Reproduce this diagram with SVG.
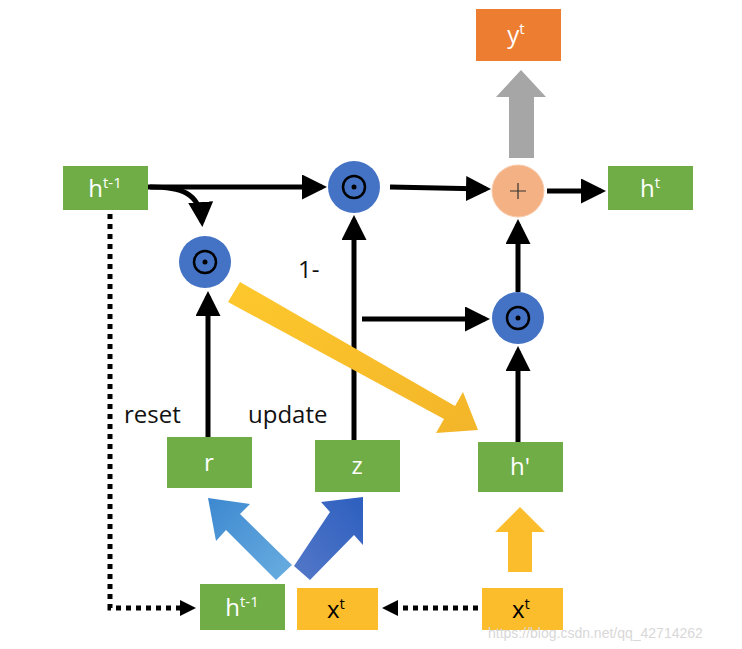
<svg xmlns="http://www.w3.org/2000/svg" width="742" height="649" viewBox="0 0 742 649">
<style>
.g{fill:#70ad47;}
.y{fill:#fbbd2c;}
.o{fill:#ed7d31;}
.t{font-family:"Open Sans","Liberation Sans",sans-serif;font-size:24px;fill:#fff;text-anchor:middle;}
.tk{font-family:"Open Sans","Liberation Sans",sans-serif;font-size:24px;fill:#000;text-anchor:middle;}
.lbl{font-family:"Open Sans","Liberation Sans",sans-serif;font-size:24px;fill:#111;}
.c{fill:#4472c4;}
.dot{fill:none;stroke:#000;stroke-width:2.5;}
.ln{stroke:#000;stroke-width:5;fill:none;marker-end:url(#ah);}
.ds{stroke:#000;stroke-width:5;fill:none;stroke-dasharray:5 5;}
</style>
<defs>
<marker id="ah" markerWidth="5" markerHeight="5" refX="4" refY="2.5" orient="auto" markerUnits="strokeWidth"><path d="M0,0 L5,2.5 L0,5 z" fill="#000"/></marker>
<linearGradient id="bl1" x1="1" y1="1" x2="0" y2="0"><stop offset="0" stop-color="#6aaee0"/><stop offset="1" stop-color="#3d88d0"/></linearGradient>
<linearGradient id="bl2" x1="0" y1="1" x2="1" y2="0"><stop offset="0" stop-color="#5478c8"/><stop offset="1" stop-color="#2d5fbf"/></linearGradient>
<linearGradient id="yl" x1="0" y1="0" x2="1" y2="1"><stop offset="0" stop-color="#fdc82c"/><stop offset="1" stop-color="#f3b52a"/></linearGradient>
</defs>
<g id="connectors">
<line class="ln" x1="148" y1="187" x2="322" y2="187"/>
<path class="ln" d="M150,187 C180,187 200,192 202,222"/>
<line class="ln" x1="390" y1="187" x2="486" y2="189"/>
<line class="ln" x1="547" y1="191" x2="601" y2="191"/>
<line class="ln" x1="208" y1="437" x2="208" y2="296"/>
<line class="ln" x1="354" y1="440" x2="354" y2="220"/>
<line class="ln" x1="362" y1="319" x2="485" y2="319"/>
<line class="ln" x1="518" y1="442" x2="518" y2="351"/>
<line class="ln" x1="518" y1="292" x2="518" y2="224"/>
<path class="ds" d="M110,214 V608 H180"/>
<path d="M180,600 L196,608 L180,616 z" fill="#000"/>
<line class="ds" x1="478" y1="608" x2="398" y2="608"/>
<path d="M398,600 L382,608 L398,616 z" fill="#000"/>
<polygon points="509,158 509,97 496,97 521,70 546,97 534,97 534,158" fill="#a6a6a6"/>
<polygon points="508,572 508,532 495,532 520,507 545,532 532,532 532,572" fill="#fbbd2c"/>
<polygon points="228,302 240,282 455,406 463,392 478,430 436,433 444,419" fill="url(#yl)"/>
<polygon points="292,565 276,580 226,530 216,541 208,498 250,504 240,514" fill="url(#bl1)"/>
<polygon points="294,566 310,580 354,535 363,545 363,497 321,502 330,512" fill="url(#bl2)"/>
</g>
<g id="h_prev"><rect class="g" x="63" y="166" width="85" height="44"/><text class="t" x="105" y="197">h<tspan font-size="15" dy="-9">t-1</tspan></text></g>
<g id="mul_top"><circle class="c" cx="354" cy="187" r="26"/><circle class="dot" cx="354" cy="187" r="11"/><circle cx="354" cy="187" r="2.5"/></g>
<g id="mul_left"><circle class="c" cx="205" cy="262" r="26"/><circle class="dot" cx="205" cy="262" r="11"/><circle cx="205" cy="262" r="2.5"/></g>
<g id="mul_right"><circle class="c" cx="518" cy="318" r="26"/><circle class="dot" cx="518" cy="318" r="11"/><circle cx="518" cy="318" r="2.5"/></g>
<g id="plus"><circle cx="518" cy="191" r="26" fill="#f4b183" stroke="#f8cbad" stroke-width="1"/><path d="M510,191 H526 M518,183 V199" stroke="#333" stroke-width="1.2"/></g>
<g id="h_t"><rect class="g" x="608" y="166" width="85" height="44"/><text class="t" x="650" y="197">h<tspan font-size="15" dy="-9">t</tspan></text></g>
<g id="y_t"><rect class="o" x="476" y="9" width="85" height="52"/><text class="t" x="516" y="43">y<tspan font-size="15" dy="-9">t</tspan></text></g>
<g id="r"><rect class="g" x="167" y="437" width="85" height="51"/><text class="t" x="209" y="471">r</text></g>
<g id="z"><rect class="g" x="315" y="440" width="85" height="52"/><text class="t" x="357" y="474">z</text></g>
<g id="h_cand"><rect class="g" x="478" y="442" width="85" height="50"/><text class="t" x="520" y="475">h'</text></g>
<g id="h_prev_b"><rect class="g" x="200" y="584" width="85" height="46"/><text class="t" x="242" y="616">h<tspan font-size="15" dy="-9">t-1</tspan></text></g>
<g id="x_left"><rect class="y" x="297" y="588" width="81" height="42"/><text class="tk" x="336" y="618">x<tspan font-size="15" dy="-9">t</tspan></text></g>
<g id="x_right"><rect class="y" x="482" y="588" width="81" height="42"/><text class="tk" x="521" y="618">x<tspan font-size="15" dy="-9">t</tspan></text></g>
<text class="lbl" x="124" y="423">reset</text>
<text class="lbl" x="248" y="423">update</text>
<text class="lbl" x="298" y="278">1-</text>
<text x="488" y="638" font-family="Liberation Sans, sans-serif" font-size="14" fill="#d8d8d8">https://blog.csdn.net/qq_42714262</text>
</svg>
